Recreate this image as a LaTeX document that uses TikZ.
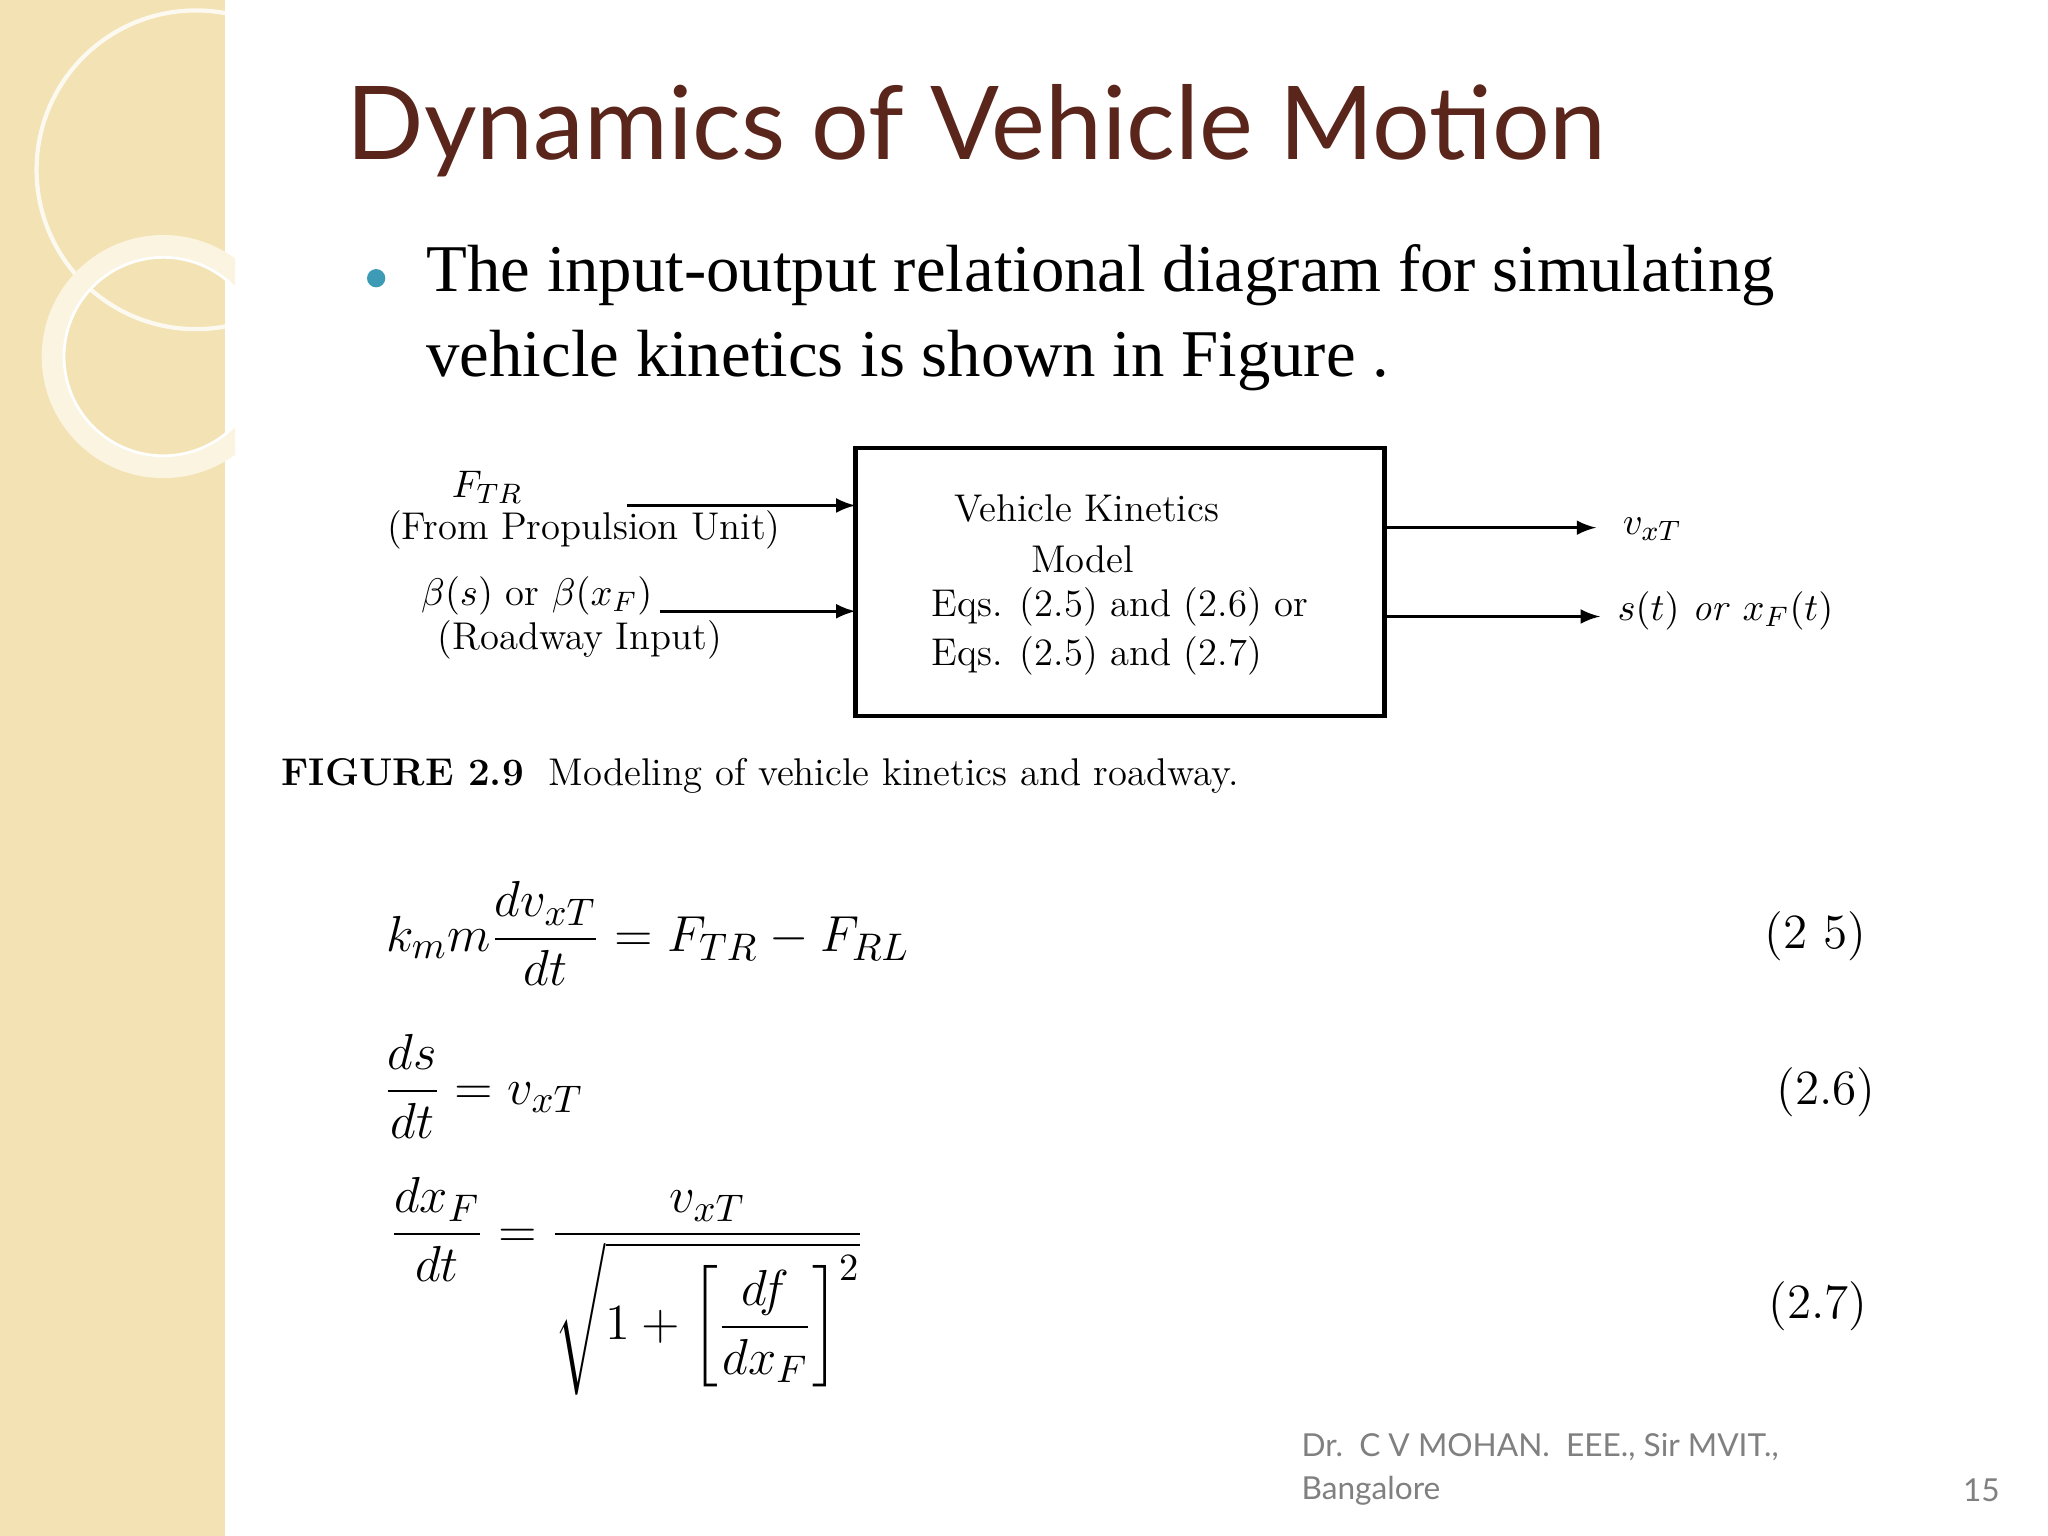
\documentclass[tikz,border=0pt]{standalone}
\usepackage{fontspec}
\usepackage{amsmath}
\newfontfamily\titlefont{Lato}
\newfontfamily\serif{Liberation Serif}
\definecolor{panel}{HTML}{F3E2B4}
\definecolor{titlec}{HTML}{5A261C}
\definecolor{bulletc}{HTML}{3E9BB5}
\begin{document}
\begin{tikzpicture}[x=0.01306cm,y=-0.01306cm,
  lab/.style={inner sep=0pt,font=\fontsize{11}{13}\selectfont},
  arr/.style={-latex,line width=0.9pt},
  eqn/.style={inner sep=0pt,anchor=west,font=\fontsize{15}{18}\selectfont},
  num/.style={inner sep=0pt,font=\fontsize{14}{16}\selectfont}]
\useasboundingbox (0,0) rectangle (1568,1176);
\fill[white] (0,0) rectangle (1568,1176);
\fill[panel] (0,0) rectangle (172,1176);
\begin{scope}
\clip (0,0) rectangle (180,1176);
\draw[white,line width=1.2pt,opacity=.8] (150,130) circle (122);
\draw[white!60!panel,line width=6pt] (125,273) circle (85);
\draw[white,line width=0.8pt] (125,273) circle (76);
\end{scope}
\node[anchor=west,inner sep=0pt,text=titlec,font=\titlefont\fontsize{29}{34}\selectfont] (title) at (265,100) {Dynamics of Vehicle Motion};
\fill[bulletc] (288,213) circle (7);
\node[anchor=north west,inner sep=0pt,align=left,font=\serif\fontsize{19}{24}\selectfont] (bul) at (326,187) {The input-output relational diagram for simulating\\vehicle kinetics is shown in Figure .};
\draw[line width=1.2pt] (655,343) rectangle (1060,548);
\coordinate (bl1) at (655,387); \coordinate (bl2) at (655,468);
\coordinate (br1) at (1060,404); \coordinate (br2) at (1060,472);
\node[lab] (t1) at (832,389) {Vehicle Kinetics};
\node[lab] (t2) at (829,428) {Model};
\node[lab,anchor=west] (t3) at (713,465) {Eqs. (2.5) and (2.6) or};
\node[lab,anchor=west] (t4) at (713,502) {Eqs. (2.5) and (2.7)};
\node[lab] (f1) at (373,373) {$F_{TR}$};
\node[lab] (f2) at (447,406) {(From Propulsion Unit)};
\node[lab] (b1) at (411,456) {$\beta(s)$ or $\beta(x_F)$};
\node[lab] (b2) at (444,490) {(Roadway Input)};
\coordinate (a1) at (480,387); \coordinate (a2) at (505,468);
\draw[arr] (a1) -- (bl1);
\draw[arr] (a2) -- (bl2);
\node[lab,anchor=west] (o1) at (1242,405) {$v_{xT}$};
\node[lab,anchor=west] (o2) at (1238,468) {$s(t)$ \textit{or} $x_F(t)$};
\coordinate (c1) at (1222,404); \coordinate (c2) at (1225,472);
\draw[arr] (br1) -- (c1);
\draw[arr] (br2) -- (c2);
\node[lab,anchor=west] (cap) at (215,594) {\textbf{FIGURE 2.9}\ \ Modeling of vehicle kinetics and roadway.};
\node[eqn] (e1) at (295,715) {$\displaystyle k_m m\frac{dv_{xT}}{dt}=F_{TR}-F_{RL}$};
\node[eqn] (e2) at (293,832) {$\displaystyle \frac{ds}{dt}=v_{xT}$};
\node[eqn] (e3) at (298,985) {$\displaystyle \frac{dx_F}{dt}=\frac{v_{xT}}{\sqrt{1+\left[\dfrac{df}{dx_F}\right]^2}}$};
\node[num] (n1) at (1390,717) {(2 5)};
\node[num] (n2) at (1398,836) {(2.6)};
\node[num] (n3) at (1392,1000) {(2.7)};
\node[anchor=west,inner sep=0pt,align=left,text=gray,font=\titlefont\fontsize{9}{12}\selectfont] (ft) at (996,1125) {Dr.\ \ C V MOHAN.\ \ EEE., Sir MVIT.,\\Bangalore};
\node[inner sep=0pt,text=gray,font=\titlefont\fontsize{9}{12}\selectfont] (pg) at (1517,1141) {15};
\end{tikzpicture}
\end{document}
